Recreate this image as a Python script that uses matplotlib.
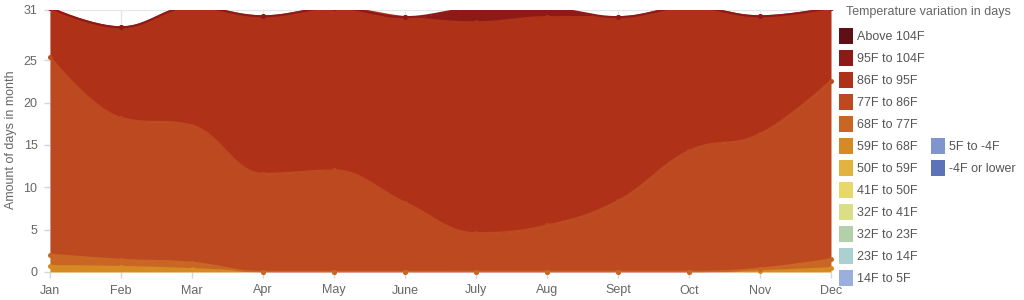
import numpy as np
import matplotlib
matplotlib.use("Agg")
import matplotlib.pyplot as plt
from matplotlib.patches import Rectangle

plt.rcParams['font.family'] = ['Liberation Sans', 'DejaVu Sans']

months = ["Jan", "Feb", "Mar", "Apr", "May", "June", "July", "Aug", "Sept", "Oct", "Nov", "Dec"]
y_ticks = [0, 5, 10, 15, 20, 25, 31]

# Days per month in each temperature band (bottom of stack first)
days_59_68 = [0.7, 0.6, 0.35, 0, 0, 0, 0, 0, 0, 0, 0.1, 0.45]
days_68_77 = [1.35, 0.85, 0.75, 0, 0, 0, 0, 0, 0, 0, 0.3, 1.05]
days_77_86 = [23.35, 16.75, 16.2, 11.6, 12.0, 8.2, 4.6, 5.5, 8.4, 14.3, 15.9, 21.1]
days_86_95 = [5.8, 10.7, 14.0, 18.6, 19.2, 21.9, 24.9, 24.6, 21.7, 17.0, 13.9, 8.6]
days_95_104 = [0, 0, 0, 0, 0, 0, 1.6, 1.0, 0, 0, 0, 0]
days_above_104 = [0, 0, 0, 0, 0, 0, 0, 0, 0, 0, 0, 0]

legend_labels = ["Above 104F", "95F to 104F", "86F to 95F", "77F to 86F", "68F to 77F",
                 "59F to 68F", "50F to 59F", "41F to 50F", "32F to 41F", "32F to 23F",
                 "23F to 14F", "14F to 5F", "5F to -4F", "-4F or lower"]
legend_colors = ["#5f1016", "#8e1a17", "#ae3118", "#bd4921", "#c96624",
                 "#d68a22", "#e2b33f", "#e8d86c", "#dade86", "#b3d0aa",
                 "#acd0cf", "#9aafdd", "#7f95cc", "#5e72b8"]

stack = [(days_59_68, "#d68a22"), (days_68_77, "#c96624"), (days_77_86, "#bd4921"),
         (days_86_95, "#ae3118"), (days_95_104, "#8e1a17"), (days_above_104, "#5f1016")]


def hc_spline(xs, ys, n=40):
    sm = 1.5
    d = sm + 1
    N = len(xs)
    lc = [None] * N
    rc = [None] * N
    for i in range(1, N - 1):
        lx, ly = xs[i - 1], ys[i - 1]
        nx, ny = xs[i + 1], ys[i + 1]
        px, py = xs[i], ys[i]
        lcx = (sm * px + lx) / d
        lcy = (sm * py + ly) / d
        rcx = (sm * px + nx) / d
        rcy = (sm * py + ny) / d
        corr = ((rcy - lcy) * (rcx - px)) / (rcx - lcx) + py - rcy
        lcy += corr
        rcy += corr
        if lcy > ly and lcy > py:
            lcy = max(ly, py); rcy = 2 * py - lcy
        elif lcy < ly and lcy < py:
            lcy = min(ly, py); rcy = 2 * py - lcy
        if rcy > ny and rcy > py:
            rcy = max(ny, py); lcy = 2 * py - rcy
        elif rcy < ny and rcy < py:
            rcy = min(ny, py); lcy = 2 * py - rcy
        lc[i] = (lcx, lcy)
        rc[i] = (rcx, rcy)
    t = np.linspace(0, 1, n)
    X, Y = [], []
    for i in range(1, N):
        p0 = (xs[i - 1], ys[i - 1])
        p3 = (xs[i], ys[i])
        p1 = rc[i - 1] if rc[i - 1] is not None else p0
        p2 = lc[i] if lc[i] is not None else p3
        bx = (1 - t) ** 3 * p0[0] + 3 * (1 - t) ** 2 * t * p1[0] + 3 * (1 - t) * t ** 2 * p2[0] + t ** 3 * p3[0]
        by = (1 - t) ** 3 * p0[1] + 3 * (1 - t) ** 2 * t * p1[1] + 3 * (1 - t) * t ** 2 * p2[1] + t ** 3 * p3[1]
        if i > 1:
            bx, by = bx[1:], by[1:]
        X.append(bx); Y.append(by)
    return np.concatenate(X), np.concatenate(Y)


fig = plt.figure(figsize=(10.24, 3.0), dpi=100)
W, H = 1024, 300
L, R, T, B = 50, 831, 9.5, 272
ax = fig.add_axes([L / W, 1 - B / H, (R - L) / W, (B - T) / H])

x = np.arange(len(months))
ax.set_xlim(0, len(months) - 1)
ax.set_ylim(0, 31)

marker_clip = Rectangle((-0.02, -0.05), 1.04, 1.05, transform=ax.transAxes,
                        facecolor='none', edgecolor='none')
ax.add_patch(marker_clip)

cum_prev = np.zeros(len(months))
prev_curve = None
for vals, col in stack:
    cum = cum_prev + np.array(vals, dtype=float)
    if np.any(np.array(vals) > 0):
        sx, sy = hc_spline(list(x), list(cum))
        low = np.zeros_like(sy) if prev_curve is None else prev_curve
        ax.fill_between(sx, low, sy, color=col, lw=0, zorder=2)
        ax.plot(sx, sy, color=col, lw=1.5, zorder=3, solid_capstyle='butt')
        mk, = ax.plot(x, cum, 'o', color=col, ms=3.6, mew=0, zorder=4)
        mk.set_clip_path(marker_clip)
        prev_curve = sy
    cum_prev = cum

ax.set_xticks(x)
ax.set_xticklabels(months)
ax.set_yticks(y_ticks)
ax.grid(True, color="#e6e6e6", lw=1, zorder=0)
for s in ax.spines.values():
    s.set_visible(False)
ax.tick_params(axis='both', colors="#ccd6eb", labelcolor="#666666", labelsize=9, length=4, width=1)
ax.tick_params(axis='y', pad=5)
ax.tick_params(axis='x', pad=5)

fig.text(11 / W, 1 - 140 / H, "Amount of days in month", rotation=90, ha='center', va='center',
         color="#666666", fontsize=9)

# Legend
fig.text(928 / W, 1 - 11.5 / H, "Temperature variation in days", ha='center', va='center',
         color="#666666", fontsize=9)
for i, (lab, col) in enumerate(zip(legend_labels, legend_colors)):
    if i < 12:
        sx0, cy = 839, 36 + 22 * i
    else:
        sx0, cy = 931, 146 + 22 * (i - 12)
    fig.patches.append(Rectangle((sx0 / W, 1 - (cy + 8) / H), 14 / W, 16 / H,
                                 transform=fig.transFigure, facecolor=col, edgecolor='none'))
    fig.text((sx0 + 18) / W, 1 - (cy + 0.5) / H, lab, ha='left', va='center', color="#555555", fontsize=9)

fig.savefig("out.png", dpi=100)
